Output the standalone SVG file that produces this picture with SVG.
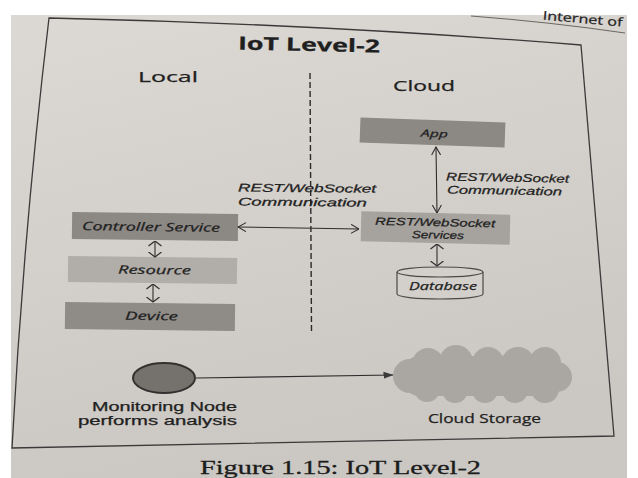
<svg xmlns="http://www.w3.org/2000/svg" width="638" height="478" viewBox="0 0 638 478">
  <defs>
    <linearGradient id="paper" x1="0" y1="0" x2="0.3" y2="1">
      <stop offset="0" stop-color="#dcd8d3"/>
      <stop offset="1" stop-color="#cbc7c2"/>
    </linearGradient>
    <marker id="chev" viewBox="0 0 6 14" refX="5.5" refY="7" markerWidth="6" markerHeight="14" markerUnits="userSpaceOnUse" orient="auto-start-reverse">
      <path d="M0.5,0.5 L5.5,7 L0.5,13.5" fill="none" stroke="#2e2e2e" stroke-width="1.2"/>
    </marker>
    <marker id="openL" viewBox="0 0 9 10" refX="8.5" refY="5" markerWidth="9" markerHeight="10" markerUnits="userSpaceOnUse" orient="auto-start-reverse">
      <path d="M0.5,0.5 L8.5,5 L0.5,9.5" fill="none" stroke="#2e2e2e" stroke-width="1.1"/>
    </marker>
    <marker id="tri" viewBox="0 0 10 8" refX="9.5" refY="4" markerWidth="10" markerHeight="8" markerUnits="userSpaceOnUse" orient="auto">
      <path d="M0,0.5 L10,4 L0,7.5 Z" fill="#3a3a3a"/>
    </marker>
  </defs>
  <style>
    .lbl { font-family: "Open Sans", "Liberation Sans", sans-serif; fill: #1f1f1f; stroke: #1f1f1f; stroke-width: 0.25; }
    .two { font-family: "Liberation Sans", "Open Sans", sans-serif; fill: #1f1f1f; stroke: #1f1f1f; stroke-width: 0.25; }
    .it { font-style: italic; }
    .box { stroke: none; }
    .dark { fill: #8c8884; }
    .conn { stroke: #2e2e2e; stroke-width: 1.1; fill: none; }
  </style>

  <rect x="0" y="0" width="638" height="478" fill="#ffffff"/>
  <rect x="11" y="15" width="616" height="463" fill="url(#paper)"/>

  <!-- page header -->
  <g id="header">
    <path d="M471,16 Q550,22 625,33" fill="none" stroke="#6a6763" stroke-width="1"/>
    <text class="lbl" x="542" y="23" font-size="12" textLength="80" lengthAdjust="spacingAndGlyphs" transform="rotate(5 582 26)">Internet of</text>
  </g>

  <!-- figure frame -->
  <path id="frame" d="M49,18 Q320,24 581,45 L614,436 L12,448 Q23.5,232 49,18 Z" fill="none" stroke="#3a3a3a" stroke-width="1.3"/>

  <g id="title">
    <text class="lbl" x="238" y="51" font-size="18" font-weight="bold" textLength="142" lengthAdjust="spacingAndGlyphs" transform="rotate(1.2 309 46)">IoT Level-2</text>
  </g>
  <g id="local-label">
    <text class="lbl" x="138" y="82" font-size="14.5" textLength="60" lengthAdjust="spacingAndGlyphs">Local</text>
  </g>
  <g id="cloud-label">
    <text class="lbl" x="393" y="91" font-size="14.5" textLength="62" lengthAdjust="spacingAndGlyphs">Cloud</text>
  </g>

  <!-- divider -->
  <line id="divider" x1="310" y1="73" x2="311.5" y2="332" stroke="#2a2a2a" stroke-width="1.4" stroke-dasharray="6 3"/>

  <g id="controller-service" transform="rotate(0.7 155 227)">
    <rect class="box dark" x="72" y="213" width="166" height="27"/>
    <text class="lbl it" x="82" y="231" font-size="11.5" textLength="138" lengthAdjust="spacingAndGlyphs">Controller Service</text>
  </g>
  <g id="resource" transform="rotate(0.7 152 270)">
    <rect class="box" x="68" y="257" width="169" height="26" fill="#b1ada8"/>
    <text class="lbl it" x="118" y="274" font-size="11.5" textLength="73" lengthAdjust="spacingAndGlyphs">Resource</text>
  </g>
  <g id="device" transform="rotate(0.7 150 316)">
    <rect class="box" x="65" y="303" width="170" height="27" fill="#8f8b87"/>
    <text class="lbl it" x="125" y="320" font-size="11.5" textLength="53" lengthAdjust="spacingAndGlyphs">Device</text>
  </g>

  <g id="app" transform="rotate(2 432 133)">
    <rect class="box dark" x="360" y="120" width="145" height="25"/>
    <text class="lbl it" x="421" y="137" font-size="10" textLength="27" lengthAdjust="spacingAndGlyphs">App</text>
  </g>
  <g id="rest-services" transform="rotate(1.3 435 228)">
    <rect class="box" x="361" y="213" width="149" height="30" fill="#a6a29d"/>
    <text class="two it" x="375" y="226" font-size="10.5" textLength="120" lengthAdjust="spacingAndGlyphs">REST/WebSocket</text>
    <text class="two it" x="412" y="238.5" font-size="10.5" textLength="52" lengthAdjust="spacingAndGlyphs">Services</text>
  </g>
  <g id="database">
    <path d="M397,272 L397,294 A43,5 0 0 0 483,294 L483,272" fill="#d3cfca" stroke="#4a4a4a" stroke-width="1.2"/>
    <ellipse cx="440" cy="272" rx="43" ry="5" fill="#d3cfca" stroke="#4a4a4a" stroke-width="1.2"/>
    <text class="lbl it" x="409" y="290" font-size="11" textLength="68" lengthAdjust="spacingAndGlyphs">Database</text>
  </g>

  <g id="monitoring-node">
    <ellipse cx="164" cy="378" rx="31" ry="15" fill="#75716d" stroke="#333130" stroke-width="2"/>
    <text class="two" x="92" y="410.5" font-size="12" textLength="145" lengthAdjust="spacingAndGlyphs">Monitoring Node</text>
    <text class="two" x="78" y="424.5" font-size="12" textLength="159" lengthAdjust="spacingAndGlyphs">performs analysis</text>
  </g>
  <g id="cloud-storage">
    <g fill="#aaa6a1">
      <rect x="405" y="356" width="155" height="40" rx="14"/>
      <circle cx="410" cy="376" r="17"/>
      <circle cx="428" cy="364" r="16"/>
      <circle cx="456" cy="362" r="17"/>
      <circle cx="488" cy="363" r="16"/>
      <circle cx="518" cy="364" r="17"/>
      <circle cx="545" cy="363" r="16"/>
      <circle cx="557" cy="377" r="15"/>
      <circle cx="545" cy="389" r="14"/>
      <circle cx="515" cy="390" r="13"/>
      <circle cx="485" cy="390" r="13"/>
      <circle cx="455" cy="390" r="13"/>
      <circle cx="427" cy="389" r="13"/>
    </g>
    <text class="lbl" x="428" y="423" font-size="12.5" textLength="113" lengthAdjust="spacingAndGlyphs">Cloud Storage</text>
  </g>

  <g id="connectors">
    <line class="conn" x1="155" y1="241" x2="155" y2="257" marker-start="url(#chev)" marker-end="url(#chev)"/>
    <line class="conn" x1="153" y1="284" x2="153" y2="302" marker-start="url(#chev)" marker-end="url(#chev)"/>
    <line class="conn" x1="238" y1="227" x2="359" y2="229" marker-start="url(#openL)" marker-end="url(#openL)"/>
    <line class="conn" x1="436" y1="147" x2="437" y2="213" marker-start="url(#openL)" marker-end="url(#openL)"/>
    <line class="conn" x1="437" y1="244" x2="437" y2="266" marker-start="url(#chev)" marker-end="url(#chev)"/>
    <line class="conn" x1="196" y1="378" x2="393" y2="375" stroke-width="1" marker-end="url(#tri)"/>
    <g transform="rotate(0.5 300 198)">
      <text class="two it" x="238" y="192" font-size="11.2" textLength="138" lengthAdjust="spacingAndGlyphs">REST/WebSocket</text>
      <text class="two it" x="238" y="206" font-size="11.2" textLength="129" lengthAdjust="spacingAndGlyphs">Communication</text>
    </g>
    <g transform="rotate(1 505 187)">
      <text class="two it" x="446" y="181.5" font-size="11.2" textLength="123" lengthAdjust="spacingAndGlyphs">REST/WebSocket</text>
      <text class="two it" x="447" y="194.5" font-size="11.2" textLength="115" lengthAdjust="spacingAndGlyphs">Communication</text>
    </g>
  </g>

  <g id="caption">
    <text x="200" y="474" font-family="'Liberation Serif', 'DejaVu Serif', serif" font-size="19" fill="#1c1c1c" stroke="#1c1c1c" stroke-width="0.3" textLength="281" lengthAdjust="spacingAndGlyphs">Figure 1.15: IoT Level-2</text>
  </g>
</svg>
